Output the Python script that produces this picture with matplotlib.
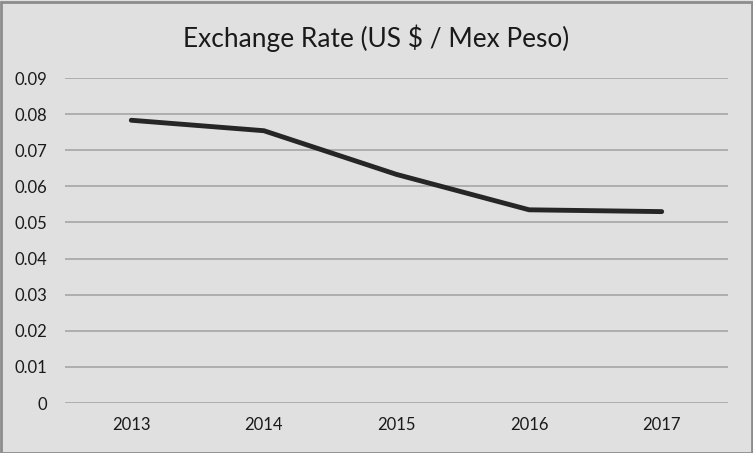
import matplotlib
matplotlib.use("Agg")
import matplotlib.pyplot as plt
from matplotlib.patches import Rectangle

years = ["2013", "2014", "2015", "2016", "2017"]
rates = [0.0783, 0.0754, 0.0633, 0.0535, 0.0530]
yticks = [0, 0.01, 0.02, 0.03, 0.04, 0.05, 0.06, 0.07, 0.08, 0.09]
ytick_labels = ["0", "0.01", "0.02", "0.03", "0.04", "0.05", "0.06", "0.07", "0.08", "0.09"]
title = "Exchange Rate (US $ / Mex Peso)"

plt.rcParams['font.family'] = ['Lato', 'DejaVu Sans']
W, H = 753, 453
fig = plt.figure(figsize=(W/100, H/100), dpi=100)
bg = "#E0E0E0"
fig.patch.set_facecolor(bg)
ax = fig.add_axes([65/W, 1-403/H, (728-65)/W, (403-78)/H])
ax.set_facecolor(bg)
x = list(range(len(years)))
ax.plot(x, rates, color="#262626", lw=3.5, solid_capstyle="round", solid_joinstyle="round", zorder=3)
ax.set_xlim(-0.5, len(years)-0.5)
ax.set_ylim(0, 0.09)
ax.set_yticks(yticks)
ax.set_yticklabels(ytick_labels)
ax.set_xticks(x)
ax.set_xticklabels(years)
ax.grid(axis='y', color="#A6A6A6", lw=1.2)
ax.set_axisbelow(True)
for s in ax.spines.values():
    s.set_visible(False)
ax.tick_params(length=0, labelsize=12, colors="#1a1a1a")
ax.tick_params(axis='y', pad=13)
ax.tick_params(axis='x', pad=10)
for lab in ax.get_yticklabels():
    lab.set_horizontalalignment('right')
fig.text(376/W, 1-38/H, title, ha='center', va='center', fontsize=18.9, color="#1a1a1a")
fig.patches.append(Rectangle((0.5/W, 0.5/H), 1-2/W, 1-2/H, transform=fig.transFigure,
                             fill=False, edgecolor="#8C8C8C", lw=2))
fig.savefig("out.png", dpi=100, facecolor=bg)
